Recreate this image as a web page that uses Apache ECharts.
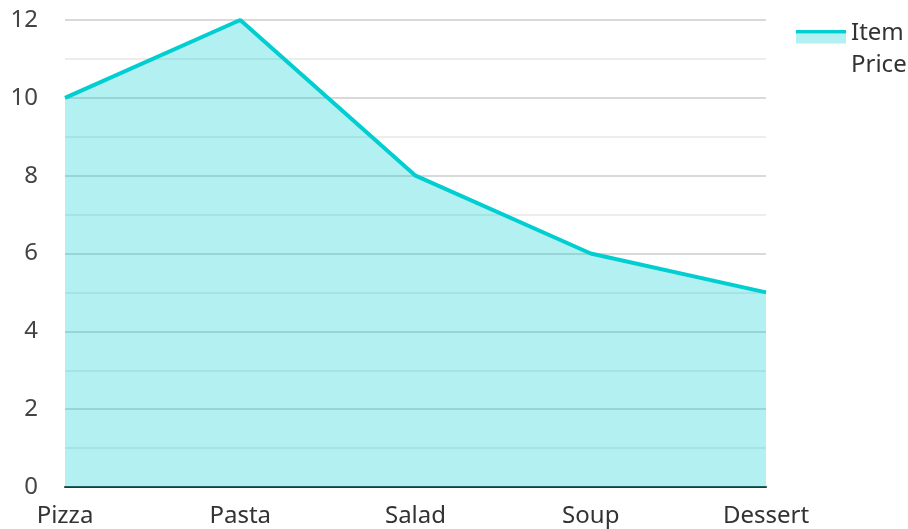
<!DOCTYPE html>
<html>
<head>
<meta charset="utf-8">
<script src="https://cdn.jsdelivr.net/npm/echarts@6/dist/echarts.min.js"></script>
<style>
  html, body { margin: 0; padding: 0; background: #fff; }
  #chart { width: 908px; height: 529px; }
</style>
</head>
<body>
<div id="chart"></div>
<script>
  const categories = ['Pizza', 'Pasta', 'Salad', 'Soup', 'Dessert']
  const prices = [10, 12, 8, 6, 5]
  const seriesName = 'Item Price'
  const COLOR = '#00CED1'
  const FONT = '"Noto Sans", "Open Sans", sans-serif'

  // legend icon: thick line on a light area strip, drawn at the top so it sits by the first text line
  const iconSvg = '<svg xmlns="http://www.w3.org/2000/svg" width="50" height="64" viewBox="0 0 50 64" preserveAspectRatio="none">' +
    '<rect x="0" y="16" width="50" height="10.5" fill="#b3f0f1"/>' +
    '<rect x="0" y="13" width="50" height="3.4" fill="#00CED1"/></svg>'
  const legendIcon = 'image://data:image/svg+xml;charset=utf-8,' + encodeURIComponent(iconSvg)

  const chart = echarts.init(document.getElementById('chart'))

  chart.setOption({
    animation: false,
    legend: {
      left: 791,
      top: 12,
      itemWidth: 50,
      itemHeight: 64,
      orient: 'vertical',
      data: [{ name: seriesName, icon: legendIcon }],
      textStyle: {
        fontFamily: FONT,
        fontSize: 24,
        color: '#333',
        width: 62,
        overflow: 'break',
        lineHeight: 32
      }
    },
    grid: {
      left: 65,
      right: 142,
      top: 20,
      bottom: 42
    },
    xAxis: {
      type: 'category',
      data: categories,
      boundaryGap: false,
      axisLine: { lineStyle: { color: '#333', width: 2 } },
      axisTick: { show: false },
      axisLabel: {
        fontFamily: FONT,
        fontSize: 24,
        color: '#333',
        margin: 17
      }
    },
    yAxis: {
      type: 'value',
      min: 0,
      max: 12,
      interval: 2,
      axisLabel: {
        fontFamily: FONT,
        fontSize: 24,
        color: '#444',
        margin: 27
      },
      splitLine: { lineStyle: { color: '#ccc', width: 1.5 } },
      minorTick: { show: false, splitNumber: 2 },
      minorSplitLine: { show: true, lineStyle: { color: '#e8e8e8', width: 1.5 } }
    },
    series: [
      {
        name: seriesName,
        type: 'line',
        data: prices,
        showSymbol: false,
        symbol: 'none',
        lineStyle: { color: COLOR, width: 4 },
        itemStyle: { color: COLOR },
        areaStyle: { color: COLOR, opacity: 0.3 }
      }
    ]
  })
</script>
</body>
</html>
